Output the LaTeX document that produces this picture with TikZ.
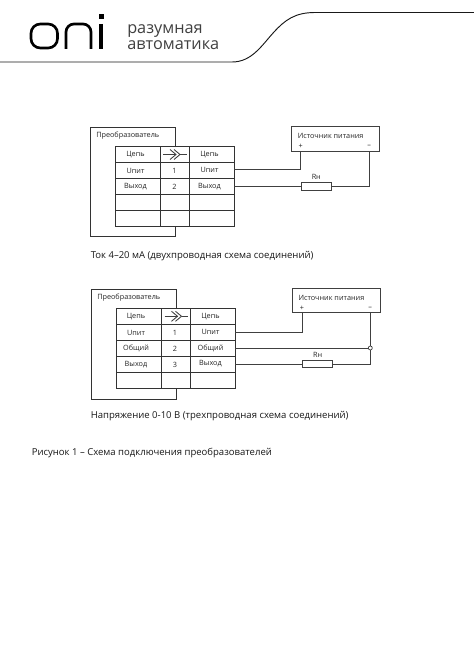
\documentclass[tikz,border=0pt]{standalone}
\usepackage{fontspec}
\setmainfont{Open Sans}
\tikzset{
  px/.style={x=0.75pt,y=-0.75pt},
  frame/.style={draw=black!80,line width=0.65pt},
  wire/.style={draw=black!75,line width=0.65pt},
  cell/.style={font=\fontsize{5.45}{6}\selectfont,text=black!85,inner sep=0pt,anchor=center},
  box/.style={draw=black!75,line width=0.65pt,fill=white,inner sep=0pt,minimum width=0pt},
  captext/.style={font=\fontsize{7.15}{8}\selectfont,text=black!90,inner sep=0pt,anchor=base west},
  logotext/.style={font=\fontsize{12.2}{13}\selectfont,text=black!75,inner sep=0pt,anchor=base west},
}
\begin{document}
\begin{tikzpicture}[px]
\useasboundingbox (0,0) rectangle (474,667);
\fill[white] (0,0) rectangle (474,667);
% header
\draw[black!90,line width=0.7pt] (0,62) -- (232,62) .. controls (252,62) and (262,45) .. (274,32) .. controls (285,20) and (295,12.5) .. (315,12.5) -- (474,12.5);
\draw[black,line width=2pt,rounded corners=7pt] (31,24) rectangle (57.5,48);
\draw[black,line width=2pt,rounded corners=6pt] (66,49) -- (66,24) -- (91,24) -- (91,49);
\draw[black,line width=2.4pt] (101,24) -- (101,49);
\fill[black] (98.8,14) rectangle (103.6,19.5);
\node[logotext] (logoa) at (127,33.5) {разумная};
\node[logotext] (logob) at (127,50) {автоматика};

% diagram 1
\draw[frame] (175,147) -- (175,127.3) -- (90.7,127.3) -- (90.7,236.7) -- (175,236.7) -- (175,226.7);
\node[cell,anchor=west] (c1title) at (96,135.5) {Преобразователь};
\draw[frame] (115.3,146.3) rectangle (234,226.7);
\foreach \yy in {162.7,178.3,194.3,210.3} \draw[frame] (115.3,\yy) -- (234,\yy);
\foreach \xx in {160,189.3} \draw[frame] (\xx,146.3) -- (\xx,226.7);
\node[cell] (a1) at (135.5,154.8) {Цепь};
\node[cell] (a2) at (135.5,170.5) {Uпит};
\node[cell] (a3) at (135.5,186.5) {Выход};
\node[cell] (b2) at (174.5,170.5) {1};
\node[cell] (b3) at (174.5,186.5) {2};
\node[cell] (d1) at (209.5,154.8) {Цепь};
\node[cell] (d2) at (209.5,169.8) {Uпит};
\node[cell] (d3) at (209.5,186.5) {Выход};
\draw[wire] (163,154.5) -- (176,154.5) (180,154.5) -- (187,154.5);
\draw[wire] (170,149.5) -- (176,154.5) -- (170,159.5) (174,149.5) -- (180,154.5) -- (174,159.5);
\node[box,minimum width=66pt,minimum height=18.75pt] (src1) at (335.2,138.5) {};
\node[cell,anchor=west] (s1t) at (297.5,135.7) {Источник питания};
\node[cell] (s1p) at (300.7,146.3) {+};
\node[cell] (s1m) at (369.3,146.3) {–};
\coordinate (p1) at (300.7,151.2);
\coordinate (m1) at (369.3,151.2);
\coordinate (t1) at (234,169.3);
\coordinate (t2) at (234,186.3);
\draw[wire] (t1) -- (t1 -| p1) -- (p1);
\node[box,minimum width=22.5pt,minimum height=6pt] (r1) at (316.3,186.3) {};
\node[cell] (r1t) at (316.3,177.2) {Rн};
\draw[wire] (t2) -- (r1.west);
\draw[wire] (r1.east) -- (r1.east -| m1) -- (m1);
\node[captext] (cap1) at (90.5,258.5) {Ток 4–20 мА (двухпроводная схема соединений)};

% diagram 2
\draw[frame] (176,308.3) -- (176,289.3) -- (91.7,289.3) -- (91.7,399.7) -- (176,399.7) -- (176,388.3);
\node[cell,anchor=west] (c2title) at (97,298) {Преобразователь};
\draw[frame] (116.3,308.3) rectangle (235,388.3);
\foreach \yy in {324.3,340.3,356.3,372.3} \draw[frame] (116.3,\yy) -- (235,\yy);
\foreach \xx in {161.3,190.3} \draw[frame] (\xx,308.3) -- (\xx,388.3);
\node[cell] (e1) at (136,316.7) {Цепь};
\node[cell] (e2) at (136,332.7) {Uпит};
\node[cell] (e3) at (136,348.5) {Общий};
\node[cell] (e4) at (136,364.5) {Выход};
\node[cell] (f2) at (175,332.7) {1};
\node[cell] (f3) at (175,348.5) {2};
\node[cell] (f4) at (175,364.5) {3};
\node[cell] (g1) at (210.5,316.7) {Цепь};
\node[cell] (g2) at (210.5,332) {Uпит};
\node[cell] (g3) at (210.5,348) {Общий};
\node[cell] (g4) at (210.5,364) {Выход};
\draw[wire] (164.5,316.3) -- (177.5,316.3) (181.5,316.3) -- (188,316.3);
\draw[wire] (171.5,311.3) -- (177.5,316.3) -- (171.5,321.3) (175.5,311.3) -- (181.5,316.3) -- (175.5,321.3);
\node[box,minimum width=66pt,minimum height=18pt] (src2) at (336.3,300.3) {};
\node[cell,anchor=west] (s2t) at (298.3,298) {Источник питания};
\node[cell] (s2p) at (302,308) {+};
\node[cell] (s2m) at (370.3,308) {–};
\coordinate (p2) at (302,312.3);
\coordinate (m2) at (370.3,312.3);
\coordinate (u1) at (235,332);
\coordinate (u2) at (235,348);
\coordinate (u3) at (235,364);
\draw[wire] (u1) -- (u1 -| p2) -- (p2);
\node[box,minimum width=22.5pt,minimum height=5.8pt] (r2) at (317.7,364) {};
\node[cell] (r2t) at (317.7,355) {Rн};
\node[circle,draw=black!80,fill=white,line width=0.5pt,inner sep=0pt,minimum size=3pt] (j) at (370.3,348) {};
\draw[wire] (u2) -- (j);
\draw[wire] (m2) -- (j);
\draw[wire] (u3) -- (r2.west);
\draw[wire] (r2.east) -- (r2.east -| j) -- (j);
\node[captext] (cap2) at (90.5,418.5) {Напряжение 0-10 В (трехпроводная схема соединений)};
\node[captext] (cap3) at (31.5,455) {Рисунок 1 – Схема подключения преобразователей};
\end{tikzpicture}
\end{document}
